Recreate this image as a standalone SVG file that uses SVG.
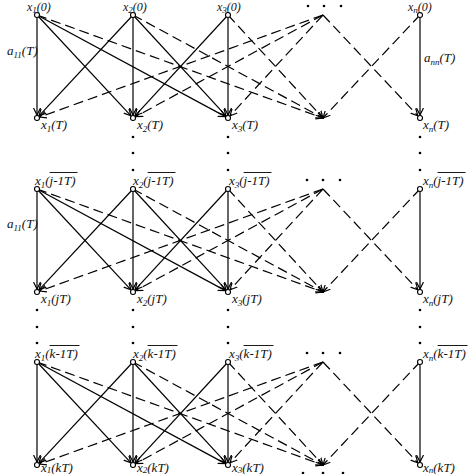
<svg xmlns="http://www.w3.org/2000/svg" width="474" height="474" viewBox="0 0 474 474">
<defs>
<style>
.s{stroke:#000;stroke-width:1.2;fill:none;marker-end:url(#ah)}
.d{stroke:#000;stroke-width:1.2;fill:none;stroke-dasharray:10 5;marker-end:url(#ah)}
.nd{fill:#fff;stroke:#000;stroke-width:1.1}
.dot{fill:#000}
.ov{stroke:#000;stroke-width:0.9}
text{font-family:"Liberation Serif","Times New Roman",serif;font-style:italic;font-size:13px;fill:#111}
.sub{font-size:9px}
.top{font-size:12px}
</style>
<marker id="ah" markerUnits="userSpaceOnUse" markerWidth="8" markerHeight="8" viewBox="0 0 8 8" refX="7" refY="4" orient="auto">
<path d="M0,0.5 L7,4 L0,7.5" fill="none" stroke="#000" stroke-width="1.2" stroke-dasharray="none"/>
</marker>
</defs>
<rect width="474" height="474" fill="#fff"/>

<g id="connectors">
<g id="block1-edges">
<line class="s" x1="37" y1="15" x2="37" y2="115"/>
<line class="s" x1="37" y1="15" x2="131" y2="115.8"/>
<line class="s" x1="37" y1="15" x2="225.4" y2="116.6"/>
<line class="s" x1="133" y1="15" x2="39" y2="115.8"/>
<line class="s" x1="133" y1="15" x2="133" y2="115"/>
<line class="s" x1="133" y1="15" x2="226" y2="115.8"/>
<line class="s" x1="228" y1="15" x2="135" y2="115.8"/>
<line class="s" x1="228" y1="15" x2="228" y2="115"/>
<line class="s" x1="420" y1="15" x2="420" y2="115"/>
<line class="d" x1="37" y1="15" x2="323" y2="118"/>
<line class="d" x1="133" y1="15" x2="323" y2="118"/>
<line class="d" x1="228" y1="15" x2="323" y2="118"/>
<line class="d" x1="323" y1="15" x2="39.8" y2="117"/>
<line class="d" x1="323" y1="15" x2="135.6" y2="116.6"/>
<line class="d" x1="323" y1="15" x2="230" y2="115.8"/>
<line class="d" x1="323" y1="15" x2="417.9" y2="115.8"/>
<line class="d" x1="420" y1="15" x2="323" y2="118"/>
</g>
<g id="block2-edges" transform="translate(0,174)">
<line class="s" x1="37" y1="15" x2="37" y2="115"/>
<line class="s" x1="37" y1="15" x2="131" y2="115.8"/>
<line class="s" x1="37" y1="15" x2="225.4" y2="116.6"/>
<line class="s" x1="133" y1="15" x2="39" y2="115.8"/>
<line class="s" x1="133" y1="15" x2="133" y2="115"/>
<line class="s" x1="133" y1="15" x2="226" y2="115.8"/>
<line class="s" x1="228" y1="15" x2="135" y2="115.8"/>
<line class="s" x1="228" y1="15" x2="228" y2="115"/>
<line class="s" x1="420" y1="15" x2="420" y2="115"/>
<line class="d" x1="37" y1="15" x2="323" y2="118"/>
<line class="d" x1="133" y1="15" x2="323" y2="118"/>
<line class="d" x1="228" y1="15" x2="323" y2="118"/>
<line class="d" x1="323" y1="15" x2="39.8" y2="117"/>
<line class="d" x1="323" y1="15" x2="135.6" y2="116.6"/>
<line class="d" x1="323" y1="15" x2="230" y2="115.8"/>
<line class="d" x1="323" y1="15" x2="417.9" y2="115.8"/>
<line class="d" x1="420" y1="15" x2="323" y2="118"/>
</g>
<g id="block3-edges" transform="translate(0,347)">
<line class="s" x1="37" y1="15" x2="37" y2="115"/>
<line class="s" x1="37" y1="15" x2="131" y2="115.8"/>
<line class="s" x1="37" y1="15" x2="225.4" y2="116.6"/>
<line class="s" x1="133" y1="15" x2="39" y2="115.8"/>
<line class="s" x1="133" y1="15" x2="133" y2="115"/>
<line class="s" x1="133" y1="15" x2="226" y2="115.8"/>
<line class="s" x1="228" y1="15" x2="135" y2="115.8"/>
<line class="s" x1="228" y1="15" x2="228" y2="115"/>
<line class="s" x1="420" y1="15" x2="420" y2="115"/>
<line class="d" x1="37" y1="15" x2="323" y2="118"/>
<line class="d" x1="133" y1="15" x2="323" y2="118"/>
<line class="d" x1="228" y1="15" x2="323" y2="118"/>
<line class="d" x1="323" y1="15" x2="39.8" y2="117"/>
<line class="d" x1="323" y1="15" x2="135.6" y2="116.6"/>
<line class="d" x1="323" y1="15" x2="230" y2="115.8"/>
<line class="d" x1="323" y1="15" x2="417.9" y2="115.8"/>
<line class="d" x1="420" y1="15" x2="323" y2="118"/>
</g>
</g>

<g id="edge-labels">
<text id="a11-1" x="7" y="55">a<tspan class="sub" dy="3">11</tspan><tspan dy="-3">(T)</tspan></text>
<text id="a11-2" x="7" y="228">a<tspan class="sub" dy="3">11</tspan><tspan dy="-3">(T)</tspan></text>
<text id="ann-1" x="424" y="62">a<tspan class="sub" dy="3">nn</tspan><tspan dy="-3">(T)</tspan></text>
</g>

<g id="ellipses">
<circle class="dot" cx="308" cy="6" r="1.3"/><circle class="dot" cx="324" cy="6" r="1.3"/><circle class="dot" cx="341" cy="6" r="1.3"/>
<circle class="dot" cx="307" cy="180" r="1.3"/><circle class="dot" cx="323" cy="180" r="1.3"/><circle class="dot" cx="340" cy="180" r="1.3"/>
<circle class="dot" cx="307" cy="353" r="1.3"/><circle class="dot" cx="323" cy="353" r="1.3"/><circle class="dot" cx="340" cy="353" r="1.3"/>
<circle class="dot" cx="303" cy="473" r="1.3"/><circle class="dot" cx="323" cy="473" r="1.3"/><circle class="dot" cx="343" cy="473" r="1.3"/>
<circle class="dot" cx="133" cy="137" r="1.3"/><circle class="dot" cx="133" cy="153" r="1.3"/><circle class="dot" cx="133" cy="170" r="1.3"/>
<circle class="dot" cx="228" cy="137" r="1.3"/><circle class="dot" cx="228" cy="153" r="1.3"/><circle class="dot" cx="228" cy="170" r="1.3"/>
<circle class="dot" cx="420" cy="137" r="1.3"/><circle class="dot" cx="420" cy="153" r="1.3"/><circle class="dot" cx="420" cy="170" r="1.3"/>
<circle class="dot" cx="37" cy="310" r="1.3"/><circle class="dot" cx="37" cy="327" r="1.3"/><circle class="dot" cx="37" cy="343" r="1.3"/>
<circle class="dot" cx="133" cy="310" r="1.3"/><circle class="dot" cx="133" cy="327" r="1.3"/><circle class="dot" cx="133" cy="343" r="1.3"/>
<circle class="dot" cx="228" cy="310" r="1.3"/><circle class="dot" cx="228" cy="327" r="1.3"/><circle class="dot" cx="228" cy="343" r="1.3"/>
<circle class="dot" cx="420" cy="310" r="1.3"/><circle class="dot" cx="420" cy="327" r="1.3"/><circle class="dot" cx="420" cy="343" r="1.3"/>
</g>

<!-- Block 1 -->
<g id="x1-0"><circle class="nd" cx="37" cy="15" r="2.5"/><text class="top" x="27" y="11">x<tspan class="sub" dy="1.5">1</tspan><tspan dy="-1.5">(0)</tspan></text></g>
<g id="x2-0"><circle class="nd" cx="133" cy="15" r="2.5"/><text class="top" x="123" y="11">x<tspan class="sub" dy="1.5">2</tspan><tspan dy="-1.5">(0)</tspan></text></g>
<g id="x3-0"><circle class="nd" cx="228" cy="15" r="2.5"/><text class="top" x="217" y="11">x<tspan class="sub" dy="1.5">3</tspan><tspan dy="-1.5">(0)</tspan></text></g>
<g id="xn-0"><circle class="nd" cx="420" cy="15" r="2.5"/><text class="top" x="408" y="11">x<tspan class="sub" dy="1.5">n</tspan><tspan dy="-1.5">(0)</tspan></text></g>
<g id="x1-T"><circle class="nd" cx="37" cy="118" r="2.5"/><text x="41" y="129">x<tspan class="sub" dy="3">1</tspan><tspan dy="-3">(T)</tspan></text></g>
<g id="x2-T"><circle class="nd" cx="133" cy="118" r="2.5"/><text x="137" y="129">x<tspan class="sub" dy="3">2</tspan><tspan dy="-3">(T)</tspan></text></g>
<g id="x3-T"><circle class="nd" cx="228" cy="118" r="2.5"/><text x="232" y="129">x<tspan class="sub" dy="3">3</tspan><tspan dy="-3">(T)</tspan></text></g>
<g id="xn-T"><circle class="nd" cx="420" cy="118" r="2.5"/><text x="423" y="129">x<tspan class="sub" dy="3">n</tspan><tspan dy="-3">(T)</tspan></text></g>

<!-- Block 2 -->
<g id="x1-j1"><circle class="nd" cx="37" cy="189" r="2.5"/><text x="35" y="185">x<tspan class="sub" dy="3">1</tspan><tspan dy="-3">(j-1T)</tspan></text><line class="ov" x1="49.6" y1="172.5" x2="77.5" y2="172.5"/></g>
<g id="x2-j1"><circle class="nd" cx="133" cy="189" r="2.5"/><text x="133" y="185">x<tspan class="sub" dy="3">2</tspan><tspan dy="-3">(j-1T)</tspan></text><line class="ov" x1="147.6" y1="172.5" x2="175.5" y2="172.5"/></g>
<g id="x3-j1"><circle class="nd" cx="228" cy="189" r="2.5"/><text x="229" y="185">x<tspan class="sub" dy="3">3</tspan><tspan dy="-3">(j-1T)</tspan></text><line class="ov" x1="243.6" y1="172.5" x2="271.5" y2="172.5"/></g>
<g id="xn-j1"><circle class="nd" cx="420" cy="189" r="2.5"/><text x="423" y="185">x<tspan class="sub" dy="3">n</tspan><tspan dy="-3">(j-1T)</tspan></text><line class="ov" x1="437.6" y1="172.5" x2="465.5" y2="172.5"/></g>
<g id="x1-jT"><circle class="nd" cx="37" cy="292" r="2.5"/><text x="41" y="303">x<tspan class="sub" dy="3">1</tspan><tspan dy="-3">(jT)</tspan></text></g>
<g id="x2-jT"><circle class="nd" cx="133" cy="292" r="2.5"/><text x="137" y="303">x<tspan class="sub" dy="3">2</tspan><tspan dy="-3">(jT)</tspan></text></g>
<g id="x3-jT"><circle class="nd" cx="228" cy="292" r="2.5"/><text x="232" y="303">x<tspan class="sub" dy="3">3</tspan><tspan dy="-3">(jT)</tspan></text></g>
<g id="xn-jT"><circle class="nd" cx="420" cy="292" r="2.5"/><text x="423" y="303">x<tspan class="sub" dy="3">n</tspan><tspan dy="-3">(jT)</tspan></text></g>

<!-- Block 3 -->
<g id="x1-k1"><circle class="nd" cx="37" cy="362" r="2.5"/><text x="35" y="358">x<tspan class="sub" dy="3">1</tspan><tspan dy="-3">(k-1T)</tspan></text><line class="ov" x1="49.6" y1="345.5" x2="79.5" y2="345.5"/></g>
<g id="x2-k1"><circle class="nd" cx="133" cy="362" r="2.5"/><text x="133" y="358">x<tspan class="sub" dy="3">2</tspan><tspan dy="-3">(k-1T)</tspan></text><line class="ov" x1="147.6" y1="345.5" x2="177.5" y2="345.5"/></g>
<g id="x3-k1"><circle class="nd" cx="228" cy="362" r="2.5"/><text x="229" y="358">x<tspan class="sub" dy="3">3</tspan><tspan dy="-3">(k-1T)</tspan></text><line class="ov" x1="243.6" y1="345.5" x2="273.5" y2="345.5"/></g>
<g id="xn-k1"><circle class="nd" cx="420" cy="362" r="2.5"/><text x="423" y="358">x<tspan class="sub" dy="3">n</tspan><tspan dy="-3">(k-1T)</tspan></text><line class="ov" x1="437.6" y1="345.5" x2="467.5" y2="345.5"/></g>
<g id="x1-kT"><circle class="nd" cx="37" cy="465" r="2.5"/><text x="41" y="472">x<tspan class="sub" dy="1">1</tspan><tspan dy="-1">(kT)</tspan></text></g>
<g id="x2-kT"><circle class="nd" cx="133" cy="465" r="2.5"/><text x="137" y="472">x<tspan class="sub" dy="1">2</tspan><tspan dy="-1">(kT)</tspan></text></g>
<g id="x3-kT"><circle class="nd" cx="228" cy="465" r="2.5"/><text x="232" y="472">x<tspan class="sub" dy="1">3</tspan><tspan dy="-1">(kT)</tspan></text></g>
<g id="xn-kT"><circle class="nd" cx="420" cy="465" r="2.5"/><text x="423" y="472">x<tspan class="sub" dy="1">n</tspan><tspan dy="-1">(kT)</tspan></text></g>
</svg>
